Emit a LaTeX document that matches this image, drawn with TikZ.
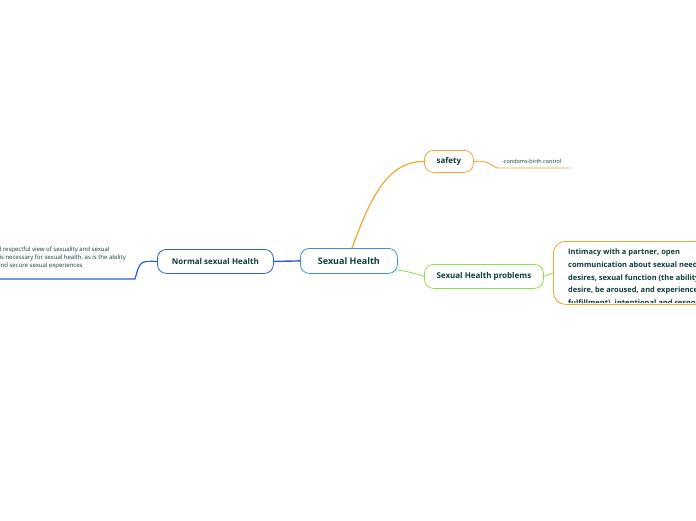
\documentclass[tikz,border=0pt]{standalone}
\usepackage{fontspec}
\setmainfont{Open Sans}
\usepackage{tikz}
\usetikzlibrary{positioning}
\definecolor{ink}{HTML}{0E3B3B}
\definecolor{cblue}{HTML}{3C8FDC}
\definecolor{nblue}{HTML}{2C5BE0}
\definecolor{corange}{HTML}{F7A530}
\definecolor{cgreen}{HTML}{8EE04A}
\tikzset{
  topic/.style={draw, rounded corners=9pt, line width=0.8pt, text=ink, font=\bfseries\fontsize{8}{10}\selectfont, inner sep=0pt, anchor=north west},
  note/.style={text=ink, font=\fontsize{6}{8}\selectfont, align=left, inner sep=0pt}
}
\begin{document}
\begin{tikzpicture}[x=1pt,y=-1pt]
\useasboundingbox (0,0) rectangle (696,520);
\clip (0,0) rectangle (696,520);

\node [topic, cblue, minimum width=97pt, minimum height=25pt, text=ink, font=\bfseries\fontsize{9}{11}\selectfont] (root) at (300,248) {Sexual Health};
\node [topic, corange, minimum width=49pt, minimum height=22pt, text=ink] (safety) at (424,150) {safety};
\node [topic, cgreen, minimum width=119pt, minimum height=24pt, text=ink] (problems) at (424,264) {Sexual Health problems};
\node [topic, nblue, minimum width=116pt, minimum height=24pt, text=ink] (normal) at (157,249) {Normal sexual Health};
\node [topic, corange, minimum width=170pt, minimum height=63pt, rounded corners=12pt] (intimacy) at (553,241) {};
\begin{scope}
\clip (553,241) rectangle (696,302);
\node [anchor=north west, text=ink, font=\bfseries\fontsize{7.5}{12.6}\selectfont, align=left, inner sep=0pt] (intimacytext) at (568,249)
  {Intimacy with a partner, open\\communication about sexual needs,\\desires, sexual function (the ability to feel\\desire, be aroused, and experience sexual\\fulfillment), intentional and responsible};
\end{scope}

\node [note, anchor=west, font=\fontsize{5.5}{7}\selectfont] (condoms) at (502,161) {-condoms-birth control};
\coordinate (cl) at (497,168);
\coordinate (cr) at (570,168);
\node [note, anchor=north east] (view) at (126,247)
  {A positive and respectful view of sexuality and sexual\\relationships is necessary for sexual health, as is the ability\\to have safe and secure sexual experiences};
\coordinate (vl) at (0,279);
\coordinate (vr) at (135,279);

\draw [corange, line width=1.2pt] (352,248) .. controls (368,205) and (385,161) .. (safety.west);
\draw [cgreen, line width=0.8pt] (397,270) .. controls (410,272) .. (problems.west);
\draw [nblue, line width=1.4pt] (root.west) -- (normal.east);
\draw [cgreen, line width=0.8pt] (problems.east) -- (intimacy.west);
\draw [corange, line width=0.9pt] (safety.east) .. controls (485,161) .. (cl) -- (cr);
\draw [nblue, line width=1.2pt] (normal.west) .. controls (140,261) .. (vr) -- (vl);
\end{tikzpicture}
\end{document}
